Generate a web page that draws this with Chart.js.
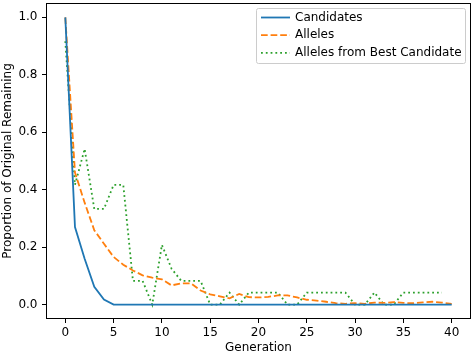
<!DOCTYPE html>
<html>
<head>
<meta charset="utf-8">
<script src="https://cdn.jsdelivr.net/npm/chart.js@4"></script>
<style>
html,body{margin:0;padding:0;background:#fff;}
#wrap{width:474px;height:355px;}
</style>
</head>
<body>
<div id="wrap"><canvas id="c" width="474" height="355"></canvas></div>
<script>
const generations = Array.from({length: 41}, (_, i) => i);
const candidates = [1.0, 0.27, 0.16, 0.062, 0.018, 0,0,0,0,0, 0,0,0,0,0,0,0,0,0,0, 0,0,0,0,0,0,0,0,0,0, 0,0,0,0,0,0,0,0,0,0, 0];
const alleles = [1.0, 0.46, 0.355, 0.259, 0.212, 0.166, 0.139, 0.119, 0.102, 0.094,
  0.088, 0.067, 0.074, 0.074, 0.049, 0.036, 0.029, 0.022, 0.037, 0.026,
  0.025, 0.027, 0.032, 0.032, 0.025, 0.017, 0.014, 0.010, 0.005, 0.003,
  0.005, 0.003, 0.007, 0.006, 0.009, 0.006, 0.005, 0.008, 0.010, 0.007, 0.003];
const bestAlleles = [0.917, 0.417, 0.542, 0.333, 0.333, 0.417, 0.417, 0.083, 0.083, 0,
  0.208, 0.125, 0.083, 0.083, 0.083, 0, 0, 0.042, 0, 0.042,
  0.042, 0.042, 0.042, 0, 0, 0.042, 0.042, 0.042, 0.042, 0.042,
  0, 0, 0.042, 0, 0, 0.042, 0.042, 0.042, 0.042, 0.042];
const xTicks = [0, 5, 10, 15, 20, 25, 30, 35, 40];
const yTicks = [0.0, 0.2, 0.4, 0.6, 0.8, 1.0];
const seriesNames = ['Candidates', 'Alleles', 'Alleles from Best Candidate'];

const FONT = 'DejaVu Sans';
const FS = 12;

function pts(arr){ return arr.map((v,i)=>({x: generations[i], y: v})); }

const framePlugin = {
  id: 'frame',
  afterDraw(chart){
    const {ctx, chartArea: a} = chart;
    ctx.save();
    ctx.strokeStyle = '#000';
    ctx.lineWidth = 1;
    ctx.strokeRect(Math.round(a.left)+0.5, Math.round(a.top)+0.5, Math.round(a.right-a.left)-1, Math.round(a.bottom-a.top)-1);
    // legend
    const bx = 256.5, by = 8.5, bw = 209, bh = 55;
    ctx.fillStyle = 'rgba(255,255,255,0.8)';
    ctx.strokeStyle = '#cccccc';
    ctx.lineWidth = 1;
    ctx.beginPath();
    if (ctx.roundRect) ctx.roundRect(bx, by, bw, bh, 2); else ctx.rect(bx, by, bw, bh);
    ctx.fill(); ctx.stroke();
    const rows = [17.5, 35.2, 52.8];
    chart.data.datasets.forEach((ds, i) => {
      ctx.strokeStyle = ds.borderColor;
      ctx.lineWidth = ds.borderWidth;
      ctx.setLineDash(ds.borderDash || []);
      ctx.beginPath();
      ctx.moveTo(261, rows[i]);
      ctx.lineTo(290, rows[i]);
      ctx.stroke();
      ctx.setLineDash([]);
      ctx.fillStyle = '#000';
      ctx.font = FS + 'px "' + FONT + '"';
      ctx.textBaseline = 'middle';
      ctx.textAlign = 'left';
      ctx.fillText(ds.label, 295, rows[i]);
    });
    ctx.restore();
  }
};

function noPad(s){ s.paddingTop = 0; s.paddingBottom = 0; s.paddingLeft = 0; s.paddingRight = 0; }

new Chart(document.getElementById('c'), {
  type: 'line',
  data: {
    datasets: [
      {label: seriesNames[0], data: pts(candidates), borderColor: '#1f77b4', borderWidth: 1.8, pointRadius: 0, tension: 0, fill: false},
      {label: seriesNames[1], data: pts(alleles), borderColor: '#ff7f0e', borderWidth: 1.8, borderDash: [6.7, 2.9], pointRadius: 0, tension: 0, fill: false},
      {label: seriesNames[2], data: pts(bestAlleles), borderColor: '#2ca02c', borderWidth: 1.8, borderDash: [1.8, 3.0], pointRadius: 0, tension: 0, fill: false}
    ]
  },
  options: {
    responsive: false,
    animation: false,
    devicePixelRatio: 1,
    layout: {padding: {top: 3, right: 3, left: 0, bottom: 0}},
    plugins: {legend: {display: false}, tooltip: {enabled: false}},
    scales: {
      x: {
        type: 'linear', min: -2, max: 42,
        afterBuildTicks: s => { s.ticks = xTicks.map(v => ({value: v})); },
        afterFit: s => { s.height = 36; noPad(s); },
        grid: {display: true, drawOnChartArea: false, drawTicks: true, tickLength: 4, color: '#000', lineWidth: 1},
        border: {display: false},
        ticks: {color: '#000', font: {family: FONT, size: FS}, padding: 3, maxRotation: 0, callback: v => String(v)},
        title: {display: true, text: 'Generation', color: '#000', font: {family: FONT, size: FS}, padding: {top: 0, bottom: 0}}
      },
      y: {
        type: 'linear', min: -0.05, max: 1.05,
        afterBuildTicks: s => { s.ticks = yTicks.map(v => ({value: v})); },
        afterFit: s => { s.width = 46; noPad(s); },
        grid: {display: true, drawOnChartArea: false, drawTicks: true, tickLength: 4, color: '#000', lineWidth: 1},
        border: {display: false},
        ticks: {color: '#000', font: {family: FONT, size: FS}, padding: 4.5, callback: v => v.toFixed(1)},
        title: {display: true, text: 'Proportion of Original Remaining', color: '#000', font: {family: FONT, size: FS}, padding: {top: 1, bottom: 0}}
      }
    }
  },
  plugins: [framePlugin]
});
</script>
</body>
</html>
